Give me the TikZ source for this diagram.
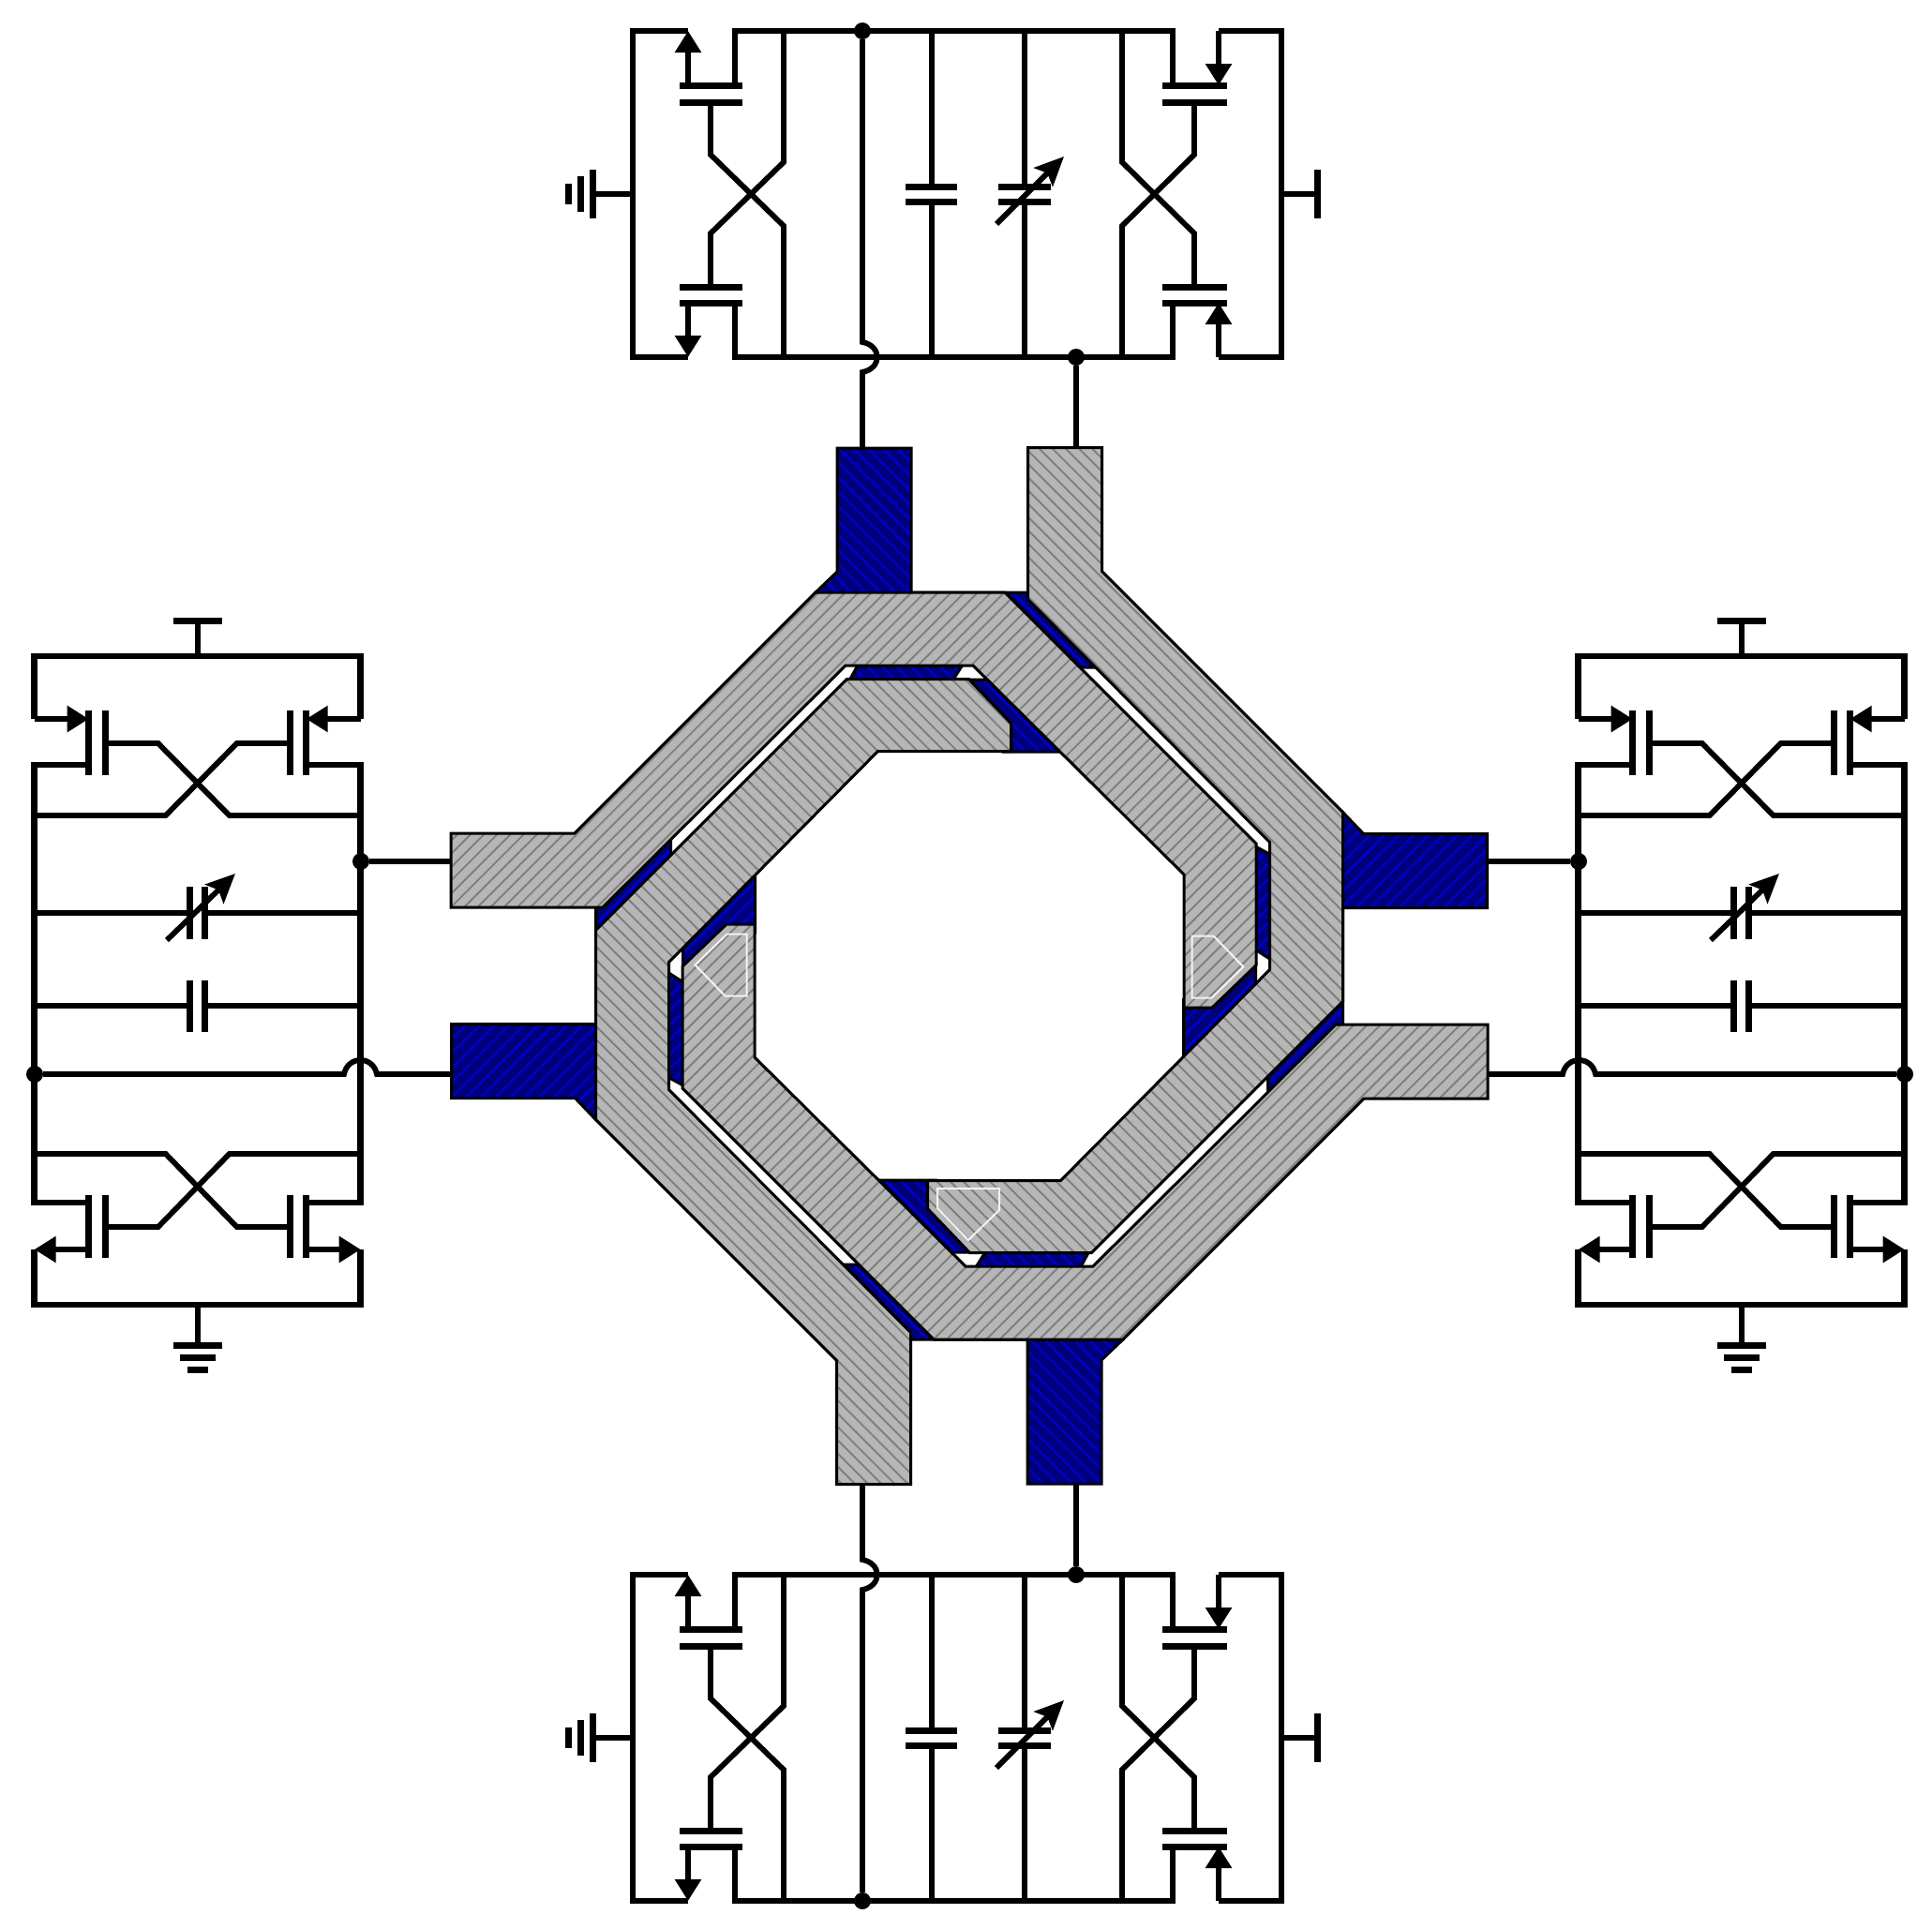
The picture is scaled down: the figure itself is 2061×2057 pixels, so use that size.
\documentclass[tikz,border=0pt]{standalone}
\usetikzlibrary{arrows.meta,patterns.meta}
\definecolor{tracegray}{HTML}{B6B6B6}
\definecolor{hatchgray}{HTML}{7E7E7E}
\definecolor{underblue}{HTML}{00007A}
\definecolor{hatchblue}{HTML}{0000C8}
\tikzset{
  wire/.style={line width=5.8pt},
  rail/.style={line width=6.8pt,line join=miter},
  plate/.style={line width=7pt},
  tip/.style={wire,-{Triangle[length=23pt,width=27pt]}},
  tune/.style={wire,-{Stealth[length=31pt,width=28pt,inset=6pt]}},
  dotnode/.style={fill,circle,inner sep=0pt,minimum size=18pt},
  trace/.style={line width=3pt,line join=miter,preaction={fill=tracegray},
    preaction={pattern={Lines[angle=#1,distance=10pt,line width=1.9pt]},pattern color=hatchgray}},
  under/.style={line width=3pt,line join=miter,preaction={fill=underblue},
    preaction={pattern={Lines[angle=#1,distance=11pt,line width=2.4pt]},pattern color=hatchblue}},
  via/.style={draw=white!95!black,line width=2pt}
}
\newcommand{\oscbody}{
  \draw[rail] (734,33) -- (675,33) -- (675,381) -- (734,381);
  \draw[rail] (1300,33) -- (1367,33) -- (1367,381) -- (1300,381);
  \draw[rail] (784,91) -- (784,33) -- (1251,33) -- (1251,91);
  \draw[rail] (784,323) -- (784,381) -- (1251,381) -- (1251,323);
  \draw[tip] (734,91) -- (734,33);
  \draw[tip] (734,323) -- (734,381);
  \draw[tip] (1300,33) -- (1300,91);
  \draw[tip] (1300,381) -- (1300,323);
  \foreach \yp in {91,109,306,323} {
    \draw[plate] (725,\yp) -- (792,\yp);
    \draw[plate] (1240,\yp) -- (1309,\yp);
  }
  \draw[wire] (758,109) -- (758,165) -- (836,241) -- (836,381);
  \draw[wire] (836,33) -- (836,173) -- (758,249) -- (758,306);
  \draw[wire] (1274,109) -- (1274,165) -- (1197,241) -- (1197,381);
  \draw[wire] (1197,33) -- (1197,173) -- (1274,249) -- (1274,306);
  \foreach \xc/\xa/\xb in {994/966/1021,1093/1065/1121} {
    \draw[wire] (\xc,33) -- (\xc,199);
    \draw[wire] (\xc,215) -- (\xc,381);
    \draw[plate] (\xa,199) -- (\xb,199);
    \draw[plate] (\xa,215) -- (\xb,215);
  }
  \draw[wire] (675,207) -- (632,207);
  \draw[plate] (632,181) -- (632,233);
  \draw[plate] (619,188) -- (619,226);
  \draw[plate] (606,196) -- (606,218);
  \draw[wire] (1367,207) -- (1405,207);
  \draw[plate] (1405,181) -- (1405,233);
}

\begin{document}
\begin{tikzpicture}[x=1pt,y=-1pt]
  \useasboundingbox (0,0) rectangle (2061,2057);

  \foreach \ang/\hatch in {0/-45,-90/45,180/-45,90/45} {
    \begin{scope}[rotate around={\ang:(1034,1030.5)}]
      \draw[under=\hatch] (893,478) -- (972,478) -- (972,632) -- (1105,632) -- (1185,712) -- (1100,712)
        -- (1100,700) -- (900,680) -- (870,632) -- (893,610) -- cycle;
      \draw[under=\hatch] (905,728) -- (917,706) -- (1029,706) -- (1015,728) -- cycle;
      \draw[under=\hatch] (1033,725) -- (1070,725) -- (1140,802) -- (1070,802) -- (1070,770) -- cycle;
    \end{scope}
  }
  \foreach \ang/\hatch in {0/45,-90/-45,180/45,90/-45} {
    \begin{scope}[rotate around={\ang:(1034,1030.5)}]
      \draw[trace=\hatch] (481,889) -- (613,889) -- (870,632) -- (1072,632) -- (1340,900) -- (1340,1030)
        -- (1293,1075) -- (1263,1075) -- (1263,933) -- (1038,710) -- (902,710) -- (643,968) -- (481,968) -- cycle;
      \draw[via] (1002,793) -- (1002,770) -- (1035,738) -- (1068,772) -- (1068,793) -- cycle;
    \end{scope}
  }

  \begin{scope}
    \oscbody
    \draw[tune] (1063,239) -- (1135,167);
  \end{scope}
  \begin{scope}[yshift=-1647pt]
    \oscbody
    \draw[tune] (1063,239) -- (1135,167);
  \end{scope}
  \begin{scope}[shift={(3.7,2067)},rotate=90]
    \oscbody
  \end{scope}
  \begin{scope}[shift={(1650.7,2067)},rotate=90]
    \oscbody
  \end{scope}
  \draw[tune] (178,1003) -- (251,932);
  \draw[tune] (1825,1003) -- (1898,932);

  \node[dotnode] (dotTa) at (920,33) {};
  \node[dotnode] (dotTb) at (1148,381) {};
  \node[dotnode] (dotBa) at (920,2028) {};
  \node[dotnode] (dotBb) at (1148,1680) {};
  \node[dotnode] (dotLa) at (385,919) {};
  \node[dotnode] (dotLb) at (37,1146) {};
  \node[dotnode] (dotRa) at (1684,919) {};
  \node[dotnode] (dotRb) at (2032,1146) {};
  \coordinate (padTa) at (920,478);
  \coordinate (padTb) at (1148,478);
  \coordinate (padBa) at (920,1583);
  \coordinate (padBb) at (1148,1583);
  \coordinate (padLa) at (481,919);
  \coordinate (padLb) at (481,1146);
  \coordinate (padRa) at (1587,919);
  \coordinate (padRb) at (1587,1146);

  \draw[wire] (padTa) -- (920,397) .. controls (941,393) and (941,369) .. (920,365) -- (dotTa);
  \draw[wire] (padTb) -- (dotTb);
  \draw[wire] (padBa) -- (920,1664) .. controls (941,1668) and (941,1692) .. (920,1696) -- (dotBa);
  \draw[wire] (padBb) -- (dotBb);
  \draw[wire] (padLa) -- (dotLa);
  \draw[wire] (padLb) -- (402,1146) .. controls (398,1126) and (371,1126) .. (367,1146) -- (dotLb);
  \draw[wire] (padRa) -- (dotRa);
  \draw[wire] (padRb) -- (1667,1146) .. controls (1671,1126) and (1698,1126) .. (1702,1146) -- (dotRb);
\end{tikzpicture}
\end{document}
